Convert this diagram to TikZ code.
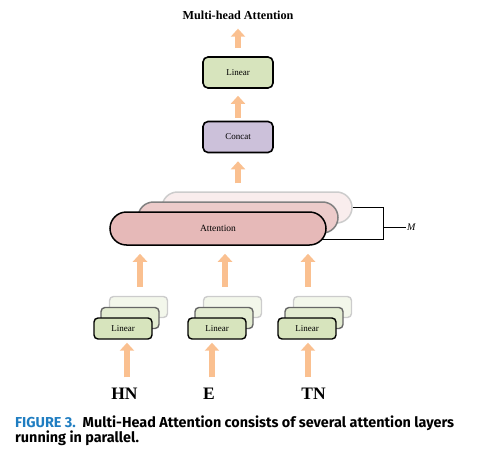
\documentclass[tikz,border=0pt]{standalone}
\usepackage{fontspec}
\setmainfont{Liberation Serif}
\newfontfamily\capfont{Fira Sans}
\usetikzlibrary{positioning, arrows.meta}

\definecolor{arroworange}{HTML}{FAC090}
\definecolor{linfill}{HTML}{D7E4BD}
\definecolor{catfill}{HTML}{CCC1DA}
\definecolor{attfill}{HTML}{E6B9B8}
\definecolor{figblue}{HTML}{1F7DC1}

\begin{document}
\begin{tikzpicture}[x=1pt, y=-1pt, every node/.style={font=\scriptsize, align=center},
    box/.style={draw, line width=1.6pt, rounded corners=5pt, minimum width=70pt,
      minimum height=31pt, inner sep=0pt, font=\fontsize{9}{10}\selectfont},
    attbox/.style={draw, line width=1.5pt, rounded corners=15.5pt, minimum height=31pt,
      inner sep=0pt, font=\fontsize{9.5}{10}\selectfont},
    linbox/.style={draw, line width=1.4pt, rounded corners=4pt, minimum width=58pt,
      minimum height=21pt, inner sep=0pt, font=\fontsize{9}{10}\selectfont},
    fatarrow/.style={draw=arroworange, line width=6pt, -{Triangle[width=14pt, length=8pt]}}]
    \useasboundingbox (0,0) rectangle (478,468);

    % oben
    \node[font=\bfseries\fontsize{12.2}{14}\selectfont, anchor=base] (title) at (238,20) {Multi-head Attention};
    \node[box, fill=linfill] (linear) at (238,72.5) {Linear};
    \node[box, fill=catfill] (concat) at (238,137) {Concat};

    % Attention-Schichten
    \node[attbox, draw=black!20, fill=attfill!25, minimum width=190pt] (att3) at (257,207.5) {};
    \node[attbox, draw=black!50, fill=attfill!75, minimum width=200pt] (att2) at (238,217.5) {};
    \node[attbox, fill=attfill, minimum width=216pt, minimum height=33pt, rounded corners=16.5pt] (att1) at (218,228.5) {Attention};

    % Klammer M
    \coordinate (brtop) at (383,207.5);
    \coordinate (brbot) at (383,239);
    \coordinate (brlow) at (322,239);
    \coordinate (brmid) at (383,227);
    \draw[line width=1pt] (att3.east) -- (brtop) -- (brbot) -- (brlow);
    \node[font=\itshape\fontsize{10}{11}\selectfont, anchor=west, inner sep=1pt] (mlab) at (406,227) {M};
    \draw[line width=1pt] (brmid) -- (mlab.west);

    \draw[fatarrow, shorten <=8pt, shorten >=5pt] (linear.north) -- (title.south);
    \draw[fatarrow, shorten <=3pt, shorten >=7pt] (concat.north) -- (linear.south);
    \draw[fatarrow, shorten <=8pt, shorten >=8pt] (att3.north -| concat) -- (concat.south);

    % Eingaenge
    \foreach \nm/\cx/\ax/\bx/\lx/\lab in {hn/123/140/127/124.5/HN, e/217/225/212/209/E, tn/307/308/308/313.5/TN}{
        \node[linbox, draw=black!20, fill=linfill!30] (\nm3) at (\cx+15.5,307) {};
        \node[linbox, draw=black!60, fill=linfill!70] (\nm2) at (\cx+7,318) {};
        \node[linbox, fill=linfill] (\nm1) at (\cx,328.5) {Linear};
        \node[font=\bfseries\fontsize{17.5}{20}\selectfont, anchor=base, inner sep=1pt] (\nm lab) at (\lx,399) {\lab};
        \coordinate (\nm in) at (\ax,0);
        \coordinate (\nm bot) at (\bx,0);
        \draw[fatarrow, shorten <=9pt, shorten >=3pt] (\nm bot |- \nm lab.north) -- (\nm bot |- \nm1.south);
        \draw[fatarrow, shorten <=9pt, shorten >=8pt] (\nm in |- \nm3.north) -- (\nm in |- att1.south);
      }

    % Bildunterschrift
    \node[anchor=base west, inner sep=0pt, font=\capfont\bfseries\fontsize{14.4}{15}\selectfont] (cap1) at (15,427)
    {\textcolor{figblue}{FIGURE 3.}\ \ Multi-Head Attention consists of several attention layers};
    \node[anchor=base west, inner sep=0pt, font=\capfont\bfseries\fontsize{14.4}{15}\selectfont] (cap2) at (15,442)
    {running in parallel.};
  \end{tikzpicture}
\end{document}
